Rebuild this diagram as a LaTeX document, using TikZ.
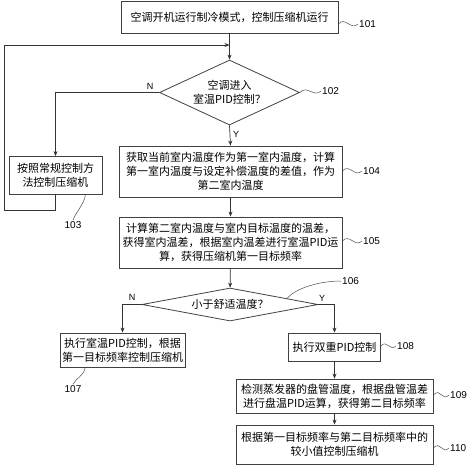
\documentclass[tikz,border=0pt]{standalone}
\usepackage{fontspec}
\setmainfont{Liberation Sans}
\newfontfamily\cjk{Noto Sans CJK SC}
\usetikzlibrary{shapes.geometric,arrows.meta}

\begin{document}
\begin{tikzpicture}[x=1pt,y=-1pt,
    box/.style={draw=black!75,line width=0.8pt,inner sep=2pt,align=center,
      font=\cjk\fontsize{11}{14}\selectfont},
    decision/.style={diamond,draw=black!75,line width=0.8pt,inner sep=0pt,
      align=center,font=\cjk\fontsize{11}{14}\selectfont},
    flow/.style={draw=black!80,line width=0.7pt,-{Stealth[length=5pt,width=4pt]}},
    tag/.style={font=\fontsize{10}{12}\selectfont,inner sep=1pt},
    yn/.style={font=\fontsize{9}{10}\selectfont,inner sep=0pt},
    wave/.style={draw=black!70,line width=0.5pt}]
    \useasboundingbox (0,0) rectangle (474,467);

    % steps
    \node[box,minimum width=217pt,minimum height=32pt] (S101) at (229.5,17)
      {空调开机运行制冷模式，控制压缩机运行};
    \node[decision,aspect=2.15,minimum width=140pt,minimum height=65pt] (D102) at (229.5,92.5)
      {空调进入\\室温PID控制？};
    \node[box,minimum width=93pt,minimum height=38pt] (S103) at (55.5,175.5)
      {按照常规控制方\\法控制压缩机};
    \node[box,minimum width=223pt,minimum height=51pt] (S104) at (230.5,171.5)
      {获取当前室内温度作为第一室内温度，计算\\第一室内温度与设定补偿温度的差值，作为\\第二室内温度};
    \node[box,minimum width=223pt,minimum height=51pt] (S105) at (230.5,242.5)
      {计算第二室内温度与室内目标温度的温差，\\获得室内温差，根据室内温差进行室温PID运\\算，获得压缩机第一目标频率};
    \node[decision,aspect=5.33,minimum width=176pt,minimum height=33pt] (D106) at (230,304.5)
      {小于舒适温度？};
    \node[box,minimum width=125pt,minimum height=34pt] (S107) at (122.5,350)
      {执行室温PID控制，根据\\第一目标频率控制压缩机};
    \node[box,minimum width=92pt,minimum height=28pt] (S108) at (334.5,347)
      {执行双重PID控制};
    \node[box,minimum width=197pt,minimum height=34pt] (S109) at (334.5,396)
      {检测蒸发器的盘管温度，根据盘管温差\\进行盘温PID运算，获得第二目标频率};
    \node[box,minimum width=197pt,minimum height=39pt] (S110) at (334.5,444.5)
      {根据第一目标频率与第二目标频率中的\\较小值控制压缩机};

    % flow
    \coordinate (J) at (229.5,45);
    \coordinate (L1) at (4,210);
    \draw[flow] (S101) -- (D102);
    \draw[flow] (D102.west) -| (S103.north);
    \draw[flow] (S103.south) |- (L1) |- (J);
    \draw[flow] (D102.south) -- (S104.north);
    \draw[flow] (S104) -- (S105);
    \draw[flow] (S105) -- (D106);
    \draw[flow] (D106.west) -| (S107.north);
    \draw[flow] (D106.east) -| (S108.north);
    \draw[flow] (S108) -- (S109);
    \draw[flow] (S109) -- (S110);

    \node[yn] (N102) at (150,86) {N};
    \node[yn] (Y102) at (236,134) {Y};
    \node[yn] (N106) at (132,297) {N};
    \node[yn] (Y106) at (322,298) {Y};

    % labels
    \node[tag,anchor=west] (T101) at (358,24) {101};
    \node[tag,anchor=west] (T102) at (321,91) {102};
    \node[tag] (T103) at (73,225) {103};
    \node[tag,anchor=west] (T104) at (362,171) {104};
    \node[tag,anchor=west] (T105) at (362,241) {105};
    \node[tag,anchor=west] (T106) at (341,281) {106};
    \node[tag] (T107) at (73,389) {107};
    \node[tag,anchor=west] (T108) at (396,346) {108};
    \node[tag,anchor=west] (T109) at (449,395) {109};
    \node[tag,anchor=west] (T110) at (449,448) {110};

    \draw[wave] (S101.east |- T101.west) .. controls +(7,-8) and +(-7,7) .. (T101.west);
    \draw[wave] (D102.east) .. controls +(7,-8) and +(-7,7) .. (T102.west);
    \draw[wave] (S103.-33) .. controls +(-1,9) and +(2,-7) .. (T103.north);
    \draw[wave] (S104.east |- T104.west) .. controls +(7,-8) and +(-7,7) .. (T104.west);
    \draw[wave] (S105.east |- T105.west) .. controls +(7,-8) and +(-7,7) .. (T105.west);
    \draw[wave] (D106.6) .. controls +(8,-10) and +(-22,0) .. (T106.west);
    \draw[wave] (S107.-155) .. controls +(-1,8) and +(3,-6) .. (T107.north);
    \draw[wave] (S108.east |- T108.west) .. controls +(6,-7) and +(-6,6) .. (T108.west);
    \draw[wave] (S109.east |- T109.west) .. controls +(7,-8) and +(-7,7) .. (T109.west);
    \draw[wave] (S110.east |- T110.west) .. controls +(7,-8) and +(-7,7) .. (T110.west);
\end{tikzpicture}
\end{document}
